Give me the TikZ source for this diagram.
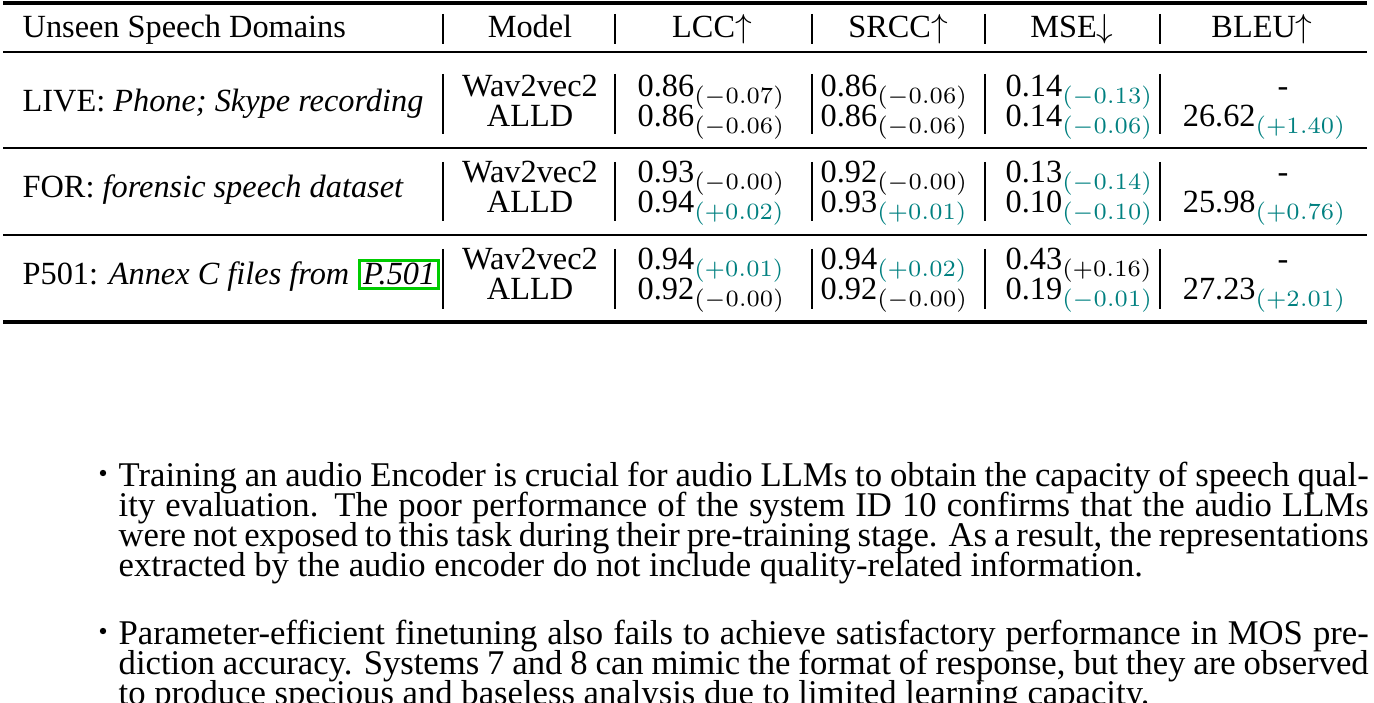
\documentclass[tikz,border=0pt]{standalone}
\usepackage{fontspec}
\setmainfont{Liberation Serif}
\definecolor{tl}{RGB}{0,128,128}
\newcommand\parset{\fontsize{10.4}{9}\selectfont\lineskiplimit=-10pt\relax}
\begin{document}
\begin{tikzpicture}[x=0.3pt,y=-0.3pt,
  t/.style={inner sep=0pt,anchor=base west,font=\fontsize{9.7}{9}\selectfont},
  c/.style={t,anchor=base},
  par/.style={inner sep=0pt,anchor=north west,text width=375pt,align=justify,font=\parset},
  sep/.style={line width=0.4pt}]
\useasboundingbox (0,0) rectangle (1374,703);
\draw[line width=1pt] (3,3) -- (1367,3);
\draw[line width=0.5pt] (3,52) -- (1367,52);
\draw[line width=0.5pt] (3,148) -- (1367,148);
\draw[line width=0.5pt] (3,235) -- (1367,235);
\draw[line width=1pt] (3,322) -- (1367,322);
\foreach \x in {443,615,812,985,1160}{
  \draw[sep] (\x,14) -- (\x,44);
  \draw[sep] (\x,74) -- (\x,134);
  \draw[sep] (\x,162) -- (\x,221);
  \draw[sep] (\x,249) -- (\x,309);
}
% header
\node[t] (h0) at (22,38) {Unseen Speech Domains};
\node[c] (h1) at (530,38) {Model};
\node[c] (h2) at (712,38) {LCC$\uparrow$};
\node[c] (h3) at (898,38) {SRCC$\uparrow$};
\node[c] (h4) at (1072,38) {MSE$\downarrow$};
\node[c] (h5) at (1262,38) {BLEU$\uparrow$};
% rows
\newcommand\rowA[9]{%
  \node[t] at (22,#1+15) {#2};
  \node[c] at (530,#1) {Wav2vec2};
  \node[c] at (530,#1+30) {ALLD};
  \node[t] at (637,#1) {#3};
  \node[t] at (637,#1+30) {#4};
  \node[t] at (820,#1) {#5};
  \node[t] at (820,#1+30) {#6};
  \node[t] at (1005,#1) {#7};
  \node[t] at (1005,#1+30) {#8};
  \node[c] at (1283,#1) {-};
  \node[t,anchor=base east] at (1347,#1+30) {#9};}
\rowA{97}{LIVE: \textit{Phone; Skype recording}}
 {0.86$_{(-0.07)}$}{0.86$_{(-0.06)}$}{0.86$_{(-0.06)}$}{0.86$_{(-0.06)}$}
 {0.14$_{\color{tl}(-0.13)}$}{0.14$_{\color{tl}(-0.06)}$}{26.62$_{\color{tl}(+1.40)}$}
\rowA{183}{FOR: \textit{forensic speech dataset}}
 {0.93$_{(-0.00)}$}{0.94$_{\color{tl}(+0.02)}$}{0.92$_{(-0.00)}$}{0.93$_{\color{tl}(+0.01)}$}
 {0.13$_{\color{tl}(-0.14)}$}{0.10$_{\color{tl}(-0.10)}$}{25.98$_{\color{tl}(+0.76)}$}
\rowA{270}{}
 {0.94$_{\color{tl}(+0.01)}$}{0.92$_{(-0.00)}$}{0.94$_{\color{tl}(+0.02)}$}{0.92$_{(-0.00)}$}
 {0.43$_{(+0.16)}$}{0.19$_{\color{tl}(-0.01)}$}{27.23$_{\color{tl}(+2.01)}$}
\node[t] (l3) at (22,285) {P501: \textit{Annex C files from}};
\node[t,draw=green!80!black,line width=0.9pt,inner sep=1pt] (p501) at ([xshift=2.5pt]l3.base east) {\textit{P.501}};
% bullets
\fill (103,473) circle[radius=3.2];
\node[par] (p1) at (118,461)
{Training an audio Encoder is crucial for audio LLMs to obtain the capacity of speech qual-\linebreak ity evaluation. The poor performance of the system ID 10 confirms that the audio LLMs were not exposed to this task during their pre-training stage. As a result, the representations extracted by the audio encoder do not include quality-related information.};
\fill (103,631) circle[radius=3.2];
\node[par] (p2) at (118,619)
{Parameter-efficient finetuning also fails to achieve satisfactory performance in MOS pre-\linebreak diction accuracy. Systems 7 and 8 can mimic the format of response, but they are observed to produce specious and baseless analysis due to limited learning capacity.};
\end{tikzpicture}
\end{document}
